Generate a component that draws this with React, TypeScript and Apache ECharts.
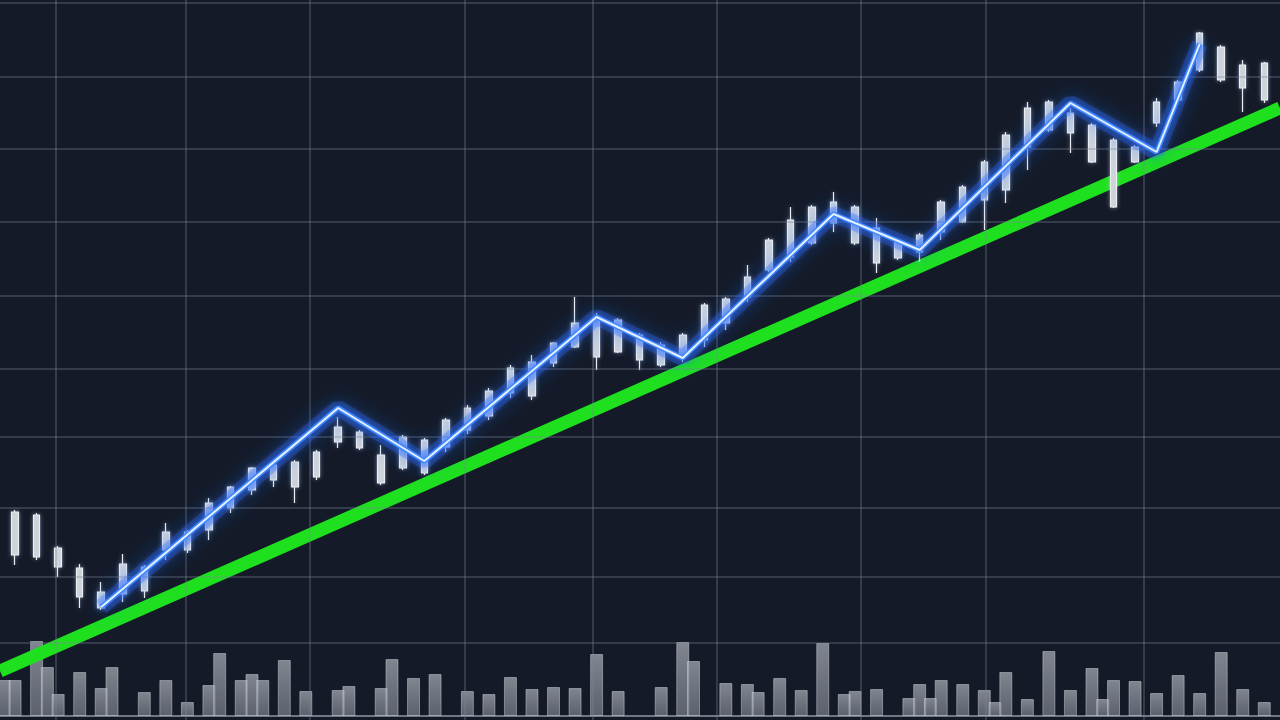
import React, { useEffect, useRef } from "react";
import * as echarts from "echarts";

// ---- data (prices in arbitrary units, time in trading days) ----
const candleDays = Array.from({ length: 60 }, (_, i) => i);
const highPrices = [42.4,42,41.4,34.8,31.2,27.6,33.2,31,39.4,38,44.4,46.8,50.6,51.4,52,54,60.6,58,55,57,56.4,60.4,63,66.4,71,73,75.6,84.6,81.4,80.4,77.4,75.6,77.4,83.4,84.6,91,96.4,102.6,103,105.6,103,100.4,96,97.4,104,107,112,117.6,123.6,124,122.4,119.4,116.4,115,124.4,128,137.6,135,132,131.6];
const bodyTops = [42,41.6,41,34.4,30.4,25.6,31.2,30.6,37.6,37.6,43.4,46.6,50.4,51,51.6,53.6,58.6,57.6,53,56.6,56,60,62.4,65.8,70.4,71.6,75.4,79.4,80.6,80,77,75,77,83,84.2,88.6,96,100,102.6,103.6,102.6,98.4,95.6,97,103.6,106.6,111.6,117,122.4,123.6,121.4,119,116,114.6,123.6,127.6,137.4,134.6,131,131.4];
const bodyBottoms = [31,33,32.6,30.6,24.6,22.4,25.2,25.8,34,34,38,42.4,46,48,46.6,48.6,55.6,54.4,47.4,50.4,49.4,54.6,58,60.8,65.4,64.8,71.4,74.6,72.6,73.6,72,71,73,76,79.4,84.6,90,92.6,95.4,99.4,95.4,91.4,92.4,93.6,97.6,99.6,104,106,114.6,118,117.4,111.6,102.6,111.6,119.4,124,130,128,126.4,124];
const lowPrices = [30.4,31,32,28.6,22.4,22,23.6,24.4,32,33.4,36,41.4,45,46.6,43.4,48,54.4,54,47,50,49,53.6,57.2,60,64.4,64,70.6,74.4,70,73.4,70,70.6,71.6,74.6,78,83.6,89.6,91.6,95,97.6,95,89.4,92,91.6,96,99.4,98,103.4,110,117.6,113.4,111.4,102.4,111.4,118.6,123.6,129.6,127.6,121.6,123.4];
const fallingDays = [1,2,3,4,5,9,14,17,18,20,28,29,30,31,40,41,42,50,51,52,53,57,58,59];

const volumeDays = [0.5,1,2,2.5,3,4,5,5.5,7,8,9,10,10.5,11.5,12,12.5,13.5,14.5,16,16.5,18,18.5,19.5,20.5,22,23,24,25,26,27,28,29,31,32,32.5,34,35,35.5,36.5,37.5,38.5,39.5,40,41,42.5,43,43.5,44,45,46,46.5,47,48,49,50,51,51.5,52,53,54,55,56,57,58,59];
const volumeValues = [36,36,75,49,22,44,28,49,24,36,14,31,63,36,42,36,56,25,26,30,28,57,38,42,25,22,39,27,29,28,62,25,29,74,55,33,32,24,38,26,73,22,25,27,18,32,18,36,32,26,14,44,17,65,26,48,17,36,35,23,41,23,64,27,14];

const swingDays = [5,16,20,28,32,39,43,50,54,56];
const swingPrices = [22.6,62.4,51.8,80.6,72.4,101.2,94,123.4,113.6,135.2];

const trendDays = [0.3, 59.73];
const trendPrices = [9.8, 122.4];

const gridDays = [2.88, 8.94, 14.69, 21.89, 27.83, 33.59, 40.27, 46.08, 53.41];
const gridPrices = [143.4, 128.6, 114.2, 99.6, 84.8, 70.2, 56.6, 42.4, 28.6, 15.4];

const X_MIN = 0.3;
const X_MAX = 59.73;

export default function App() {
  const ref = useRef<HTMLDivElement>(null);

  useEffect(() => {
    document.body.style.margin = "0";
    document.body.style.background = "#131926";
    if (!ref.current) return;
    const chart = echarts.init(ref.current, undefined, { renderer: "svg" });

    const candles = candleDays.map((d, i) => {
      const falling = fallingDays.includes(d);
      const open = falling ? bodyTops[i] : bodyBottoms[i];
      const close = falling ? bodyBottoms[i] : bodyTops[i];
      return [d, open, close, lowPrices[i], highPrices[i]];
    });
    const volumes = volumeDays.map((d, i) => [d, volumeValues[i]]);
    const swing = swingDays.map((d, i) => [d, swingPrices[i]]);
    const trend = trendDays.map((d, i) => [d, trendPrices[i]]);

    const gridLineStyle = { color: "rgba(125,134,152,0.42)", width: 1.5, type: "solid" };

    chart.setOption({
      animation: false,
      backgroundColor: "#141a27",
      grid: [
        { left: 0, right: 0, top: 0, bottom: 0 },
        { left: 0, right: 0, top: 620, bottom: 4 },
      ],
      xAxis: [
        { type: "value", min: X_MIN, max: X_MAX, show: false, gridIndex: 0 },
        {
          type: "value", min: X_MIN, max: X_MAX, gridIndex: 1,
          axisLabel: { show: false }, axisTick: { show: false }, splitLine: { show: false },
          axisLine: { show: true, onZero: false, lineStyle: { color: "rgba(190,196,208,0.55)", width: 2 } },
        },
      ],
      yAxis: [
        { type: "value", min: 0, max: 144, show: false, gridIndex: 0 },
        { type: "value", min: 0, max: 96, show: false, gridIndex: 1 },
      ],
      series: [
        {
          type: "line", data: [], z: 1, silent: true,
          markLine: {
            silent: true, symbol: ["none", "none"], label: { show: false },
            lineStyle: gridLineStyle,
            data: [
              ...gridDays.map((d) => ({ xAxis: d })),
              ...gridPrices.map((p) => ({ yAxis: p })),
            ],
          },
        },
        {
          type: "bar", xAxisIndex: 1, yAxisIndex: 1, data: volumes, barWidth: 13, z: 2,
          itemStyle: {
            color: new echarts.graphic.LinearGradient(0, 0, 0, 1, [
              { offset: 0, color: "rgba(175,180,190,0.7)" },
              { offset: 1, color: "rgba(140,145,156,0.6)" },
            ]),
            borderColor: "rgba(215,219,226,0.45)", borderWidth: 1,
          },
        },
        {
          type: "line", data: trend, z: 3, symbol: "none", silent: true,
          lineStyle: { color: "#1fe01f", width: 13, cap: "butt" },
        },
        {
          type: "candlestick", data: candles, barWidth: 7, z: 4,
          itemStyle: {
            color: "#cfd3da", color0: "#cfd3da",
            borderColor: "#eceef2", borderColor0: "#eceef2", borderWidth: 1.2,
            shadowBlur: 4, shadowColor: "rgba(190,210,255,0.5)",
          },
        },
        {
          type: "line", data: swing, z: 5, symbol: "none", silent: true,
          lineStyle: { color: "rgba(40,105,255,0.28)", width: 16, shadowBlur: 22, shadowColor: "rgba(40,110,255,1)" },
        },
        {
          type: "line", data: swing, z: 6, symbol: "none", silent: true,
          lineStyle: { color: "#3f86ff", width: 5, shadowBlur: 10, shadowColor: "#2f73ff" },
        },
        {
          type: "line", data: swing, z: 7, symbol: "none", silent: true,
          lineStyle: { color: "#e4efff", width: 2 },
        },
      ],
    });

    return () => chart.dispose();
  }, []);

  return <div ref={ref} style={{ width: 1280, height: 720 }} />;
}
